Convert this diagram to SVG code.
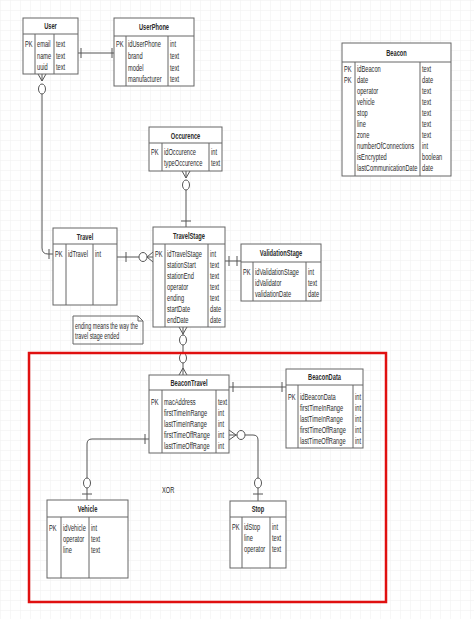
<svg xmlns="http://www.w3.org/2000/svg" width="474" height="619" viewBox="0 0 474 619">
<style>
.box{fill:#fff;stroke:#666;stroke-width:1}
.ln{fill:none;stroke:#666;stroke-width:1}
.c{fill:none;stroke:#555;stroke-width:1}
.o{fill:#fff;stroke:#555;stroke-width:1}
text{font-family:"Liberation Sans",Arial,sans-serif;font-size:9px;fill:#2a2a2a}
.h{font-weight:bold;text-anchor:middle}
.x{font-size:8.5px}
</style>
<defs>
<pattern id="grid" width="10" height="10" patternUnits="userSpaceOnUse">
<path d="M10 0H0V10" fill="none" stroke="#f0f0f0" stroke-width="1"/>
</pattern>
</defs>
<rect width="474" height="619" fill="#fff"/>
<rect width="474" height="619" fill="url(#grid)"/>

<g id="connectors">
<path class="c" d="M78 53H114M81 48V58M112 48V58"/>
<path class="c" d="M38 74L42 81L46 74M42 74V81M42 94V248Q42 254 48 254H53M49 249V259"/>
<ellipse class="o" cx="42" cy="89" rx="3.5" ry="5"/>
<path class="c" d="M182 171L186 178L190 171M186 171V178M186 190V227M181 221H191"/>
<ellipse class="o" cx="186" cy="185" rx="3.5" ry="5"/>
<path class="c" d="M117 257H139M126 252V262M153 252L147 257L153 262M147 257H153"/>
<ellipse class="o" cx="143" cy="257" rx="4" ry="4.5"/>
<path class="c" d="M225 261H241M229 256V266M237 256V266"/>
<path class="c" d="M179 327L183 334L187 327M183 327V335M183 345V353M183 363V375M179 375L183 368L187 375"/>
<ellipse class="o" cx="183" cy="340" rx="3.5" ry="5"/>
<ellipse class="o" cx="183" cy="358" rx="3.5" ry="5"/>
<path class="c" d="M229 387H286M233 382V392M282 382V392"/>
<path class="c" d="M149 439H92Q87 439 87 444V478M145 434V444M87 488V500M82 494H92"/>
<ellipse class="o" cx="87" cy="483" rx="3.5" ry="5"/>
<path class="c" d="M229 430L236 435L229 440M229 435H237M245 435H253Q258 435 258 440V478M258 488V501M253 494H263"/>
<ellipse class="o" cx="241" cy="435" rx="4" ry="4.5"/>
<ellipse class="o" cx="258" cy="483" rx="3.5" ry="5"/>
</g>

<g id="User">
<rect class="box" x="23" y="18" width="55" height="56"/>
<path class="ln" d="M23 34H78M35 34V74M54 34V74"/>
<text class="h" transform="translate(50.5,29) scale(.635 1)">User</text>
<text transform="translate(25,47) scale(.635 1)">PK</text>
<text transform="translate(37,47) scale(.635 1)">email</text>
<text transform="translate(56,47) scale(.635 1)">text</text>
<text transform="translate(37,58.5) scale(.635 1)">name</text>
<text transform="translate(56,58.5) scale(.635 1)">text</text>
<text transform="translate(37,70) scale(.635 1)">uuid</text>
<text transform="translate(56,70) scale(.635 1)">text</text>
</g>

<g id="UserPhone">
<rect class="box" x="114" y="18" width="80" height="68"/>
<path class="ln" d="M114 36H194M126 36V86M168 36V86"/>
<text class="h" transform="translate(154,30) scale(.635 1)">UserPhone</text>
<text transform="translate(116,47) scale(.635 1)">PK</text>
<text transform="translate(128,47) scale(.635 1)">idUserPhone</text>
<text transform="translate(170,47) scale(.635 1)">int</text>
<text transform="translate(128,59) scale(.635 1)">brand</text>
<text transform="translate(170,59) scale(.635 1)">text</text>
<text transform="translate(128,71) scale(.635 1)">model</text>
<text transform="translate(170,71) scale(.635 1)">text</text>
<text transform="translate(128,82) scale(.635 1)">manufacturer</text>
<text transform="translate(170,82) scale(.635 1)">text</text>
</g>

<g id="Beacon">
<rect class="box" x="342" y="43" width="109" height="133"/>
<path class="ln" d="M342 62H451M355 62V176M420 62V176"/>
<text class="h" transform="translate(396.5,55.5) scale(.635 1)">Beacon</text>
<text transform="translate(344,72) scale(.635 1)">PK</text>
<text transform="translate(344,83) scale(.635 1)">PK</text>
<text transform="translate(357,72) scale(.635 1)">idBeacon</text>
<text transform="translate(422,72) scale(.635 1)">text</text>
<text transform="translate(357,83) scale(.635 1)">date</text>
<text transform="translate(422,83) scale(.635 1)">date</text>
<text transform="translate(357,94) scale(.635 1)">operator</text>
<text transform="translate(422,94) scale(.635 1)">text</text>
<text transform="translate(357,105) scale(.635 1)">vehicle</text>
<text transform="translate(422,105) scale(.635 1)">text</text>
<text transform="translate(357,116) scale(.635 1)">stop</text>
<text transform="translate(422,116) scale(.635 1)">text</text>
<text transform="translate(357,127) scale(.635 1)">line</text>
<text transform="translate(422,127) scale(.635 1)">text</text>
<text transform="translate(357,138) scale(.635 1)">zone</text>
<text transform="translate(422,138) scale(.635 1)">text</text>
<text transform="translate(357,149) scale(.635 1)">numberOfConnections</text>
<text transform="translate(422,149) scale(.635 1)">int</text>
<text transform="translate(357,160) scale(.635 1)">isEncrypted</text>
<text transform="translate(422,160) scale(.635 1)">boolean</text>
<text transform="translate(357,171) scale(.635 1)">lastCommunicationDate</text>
<text transform="translate(422,171) scale(.635 1)">date</text>
</g>

<g id="Occurence">
<rect class="box" x="149" y="127" width="73" height="44"/>
<path class="ln" d="M149 143H222M162 143V171M209 143V171"/>
<text class="h" transform="translate(185.5,138.5) scale(.635 1)">Occurence</text>
<text transform="translate(151,155) scale(.635 1)">PK</text>
<text transform="translate(164,155) scale(.635 1)">idOccurence</text>
<text transform="translate(211,155) scale(.635 1)">int</text>
<text transform="translate(164,166) scale(.635 1)">typeOccurence</text>
<text transform="translate(211,166) scale(.635 1)">text</text>
</g>

<g id="Travel">
<rect class="box" x="53" y="228" width="64" height="77"/>
<path class="ln" d="M53 244H117M66 244V305M93 244V305"/>
<text class="h" transform="translate(85,239.5) scale(.635 1)">Travel</text>
<text transform="translate(55,257) scale(.635 1)">PK</text>
<text transform="translate(68,257) scale(.635 1)">idTravel</text>
<text transform="translate(95,257) scale(.635 1)">int</text>
</g>

<g id="TravelStage">
<rect class="box" x="153" y="227" width="72" height="100"/>
<path class="ln" d="M153 244H225M165 244V327M208 244V327"/>
<text class="h" transform="translate(189,238.5) scale(.635 1)">TravelStage</text>
<text transform="translate(155,257) scale(.635 1)">PK</text>
<text transform="translate(167,257) scale(.635 1)">idTravelStage</text>
<text transform="translate(210,257) scale(.635 1)">int</text>
<text transform="translate(167,268) scale(.635 1)">stationStart</text>
<text transform="translate(210,268) scale(.635 1)">text</text>
<text transform="translate(167,279) scale(.635 1)">stationEnd</text>
<text transform="translate(210,279) scale(.635 1)">text</text>
<text transform="translate(167,290) scale(.635 1)">operator</text>
<text transform="translate(210,290) scale(.635 1)">text</text>
<text transform="translate(167,301) scale(.635 1)">ending</text>
<text transform="translate(210,301) scale(.635 1)">text</text>
<text transform="translate(167,312) scale(.635 1)">startDate</text>
<text transform="translate(210,312) scale(.635 1)">date</text>
<text transform="translate(167,323) scale(.635 1)">endDate</text>
<text transform="translate(210,323) scale(.635 1)">date</text>
</g>

<g id="ValidationStage">
<rect class="box" x="241" y="244" width="80" height="57"/>
<path class="ln" d="M241 262H321M253 262V301M306 262V301"/>
<text class="h" transform="translate(281,256) scale(.635 1)">ValidationStage</text>
<text transform="translate(243,275) scale(.635 1)">PK</text>
<text transform="translate(255,275) scale(.635 1)">idValidationStage</text>
<text transform="translate(308,275) scale(.635 1)">int</text>
<text transform="translate(255,286) scale(.635 1)">idValidator</text>
<text transform="translate(308,286) scale(.635 1)">text</text>
<text transform="translate(255,297) scale(.635 1)">validationDate</text>
<text transform="translate(308,297) scale(.635 1)">date</text>
</g>

<g id="note">
<path class="ln" d="M73 316H138L143 321V344H73Z"/>
<path class="ln" d="M138 316V321H143"/>
<text class="x" transform="translate(75,329) scale(.635 1)">ending means the way the</text>
<text class="x" transform="translate(75,339) scale(.635 1)">travel stage ended</text>
</g>

<g id="BeaconTravel">
<rect class="box" x="149" y="375" width="80" height="78"/>
<path class="ln" d="M149 390H229M162 390V453M216 390V453"/>
<text class="h" transform="translate(189,385.5) scale(.635 1)">BeaconTravel</text>
<text transform="translate(151,405) scale(.635 1)">PK</text>
<text transform="translate(164,405) scale(.635 1)">macAddress</text>
<text transform="translate(218,405) scale(.635 1)">text</text>
<text transform="translate(164,416) scale(.635 1)">firstTimeInRange</text>
<text transform="translate(218,416) scale(.635 1)">int</text>
<text transform="translate(164,427) scale(.635 1)">lastTimeInRange</text>
<text transform="translate(218,427) scale(.635 1)">int</text>
<text transform="translate(164,438) scale(.635 1)">firstTimeOffRange</text>
<text transform="translate(218,438) scale(.635 1)">int</text>
<text transform="translate(164,449) scale(.635 1)">lastTimeOffRange</text>
<text transform="translate(218,449) scale(.635 1)">int</text>
</g>

<g id="BeaconData">
<rect class="box" x="286" y="369" width="77" height="79"/>
<path class="ln" d="M286 385H363M298 385V448M353 385V448"/>
<text class="h" transform="translate(324.5,380) scale(.635 1)">BeaconData</text>
<text transform="translate(288,400) scale(.635 1)">PK</text>
<text transform="translate(300,400) scale(.635 1)">idBeaconData</text>
<text transform="translate(355,400) scale(.635 1)">int</text>
<text transform="translate(300,411) scale(.635 1)">firstTimeInRange</text>
<text transform="translate(355,411) scale(.635 1)">int</text>
<text transform="translate(300,422) scale(.635 1)">lastTimeInRange</text>
<text transform="translate(355,422) scale(.635 1)">int</text>
<text transform="translate(300,433) scale(.635 1)">firstTimeOffRange</text>
<text transform="translate(355,433) scale(.635 1)">int</text>
<text transform="translate(300,444) scale(.635 1)">lastTimeOffRange</text>
<text transform="translate(355,444) scale(.635 1)">int</text>
</g>

<g id="Vehicle">
<rect class="box" x="47" y="500" width="81" height="78"/>
<path class="ln" d="M47 517H128M61 517V578M89 517V578"/>
<text class="h" transform="translate(87.5,511.5) scale(.635 1)">Vehicle</text>
<text transform="translate(49,531) scale(.635 1)">PK</text>
<text transform="translate(63,531) scale(.635 1)">idVehicle</text>
<text transform="translate(91,531) scale(.635 1)">int</text>
<text transform="translate(63,542) scale(.635 1)">operator</text>
<text transform="translate(91,542) scale(.635 1)">text</text>
<text transform="translate(63,553) scale(.635 1)">line</text>
<text transform="translate(91,553) scale(.635 1)">text</text>
</g>

<g id="Stop">
<rect class="box" x="230" y="501" width="56" height="67"/>
<path class="ln" d="M230 517H286M242 517V568M270 517V568"/>
<text class="h" transform="translate(258,512) scale(.635 1)">Stop</text>
<text transform="translate(232,530) scale(.635 1)">PK</text>
<text transform="translate(244,530) scale(.635 1)">idStop</text>
<text transform="translate(272,530) scale(.635 1)">int</text>
<text transform="translate(244,541) scale(.635 1)">line</text>
<text transform="translate(272,541) scale(.635 1)">text</text>
<text transform="translate(244,552) scale(.635 1)">operator</text>
<text transform="translate(272,552) scale(.635 1)">text</text>
</g>

<g id="xor">
<text transform="translate(162,493) scale(.635 1)">XOR</text>
</g>

<g id="highlight">
<rect x="29" y="353" width="357" height="249" fill="none" stroke="#e01010" stroke-width="2.5"/>
</g>
</svg>
